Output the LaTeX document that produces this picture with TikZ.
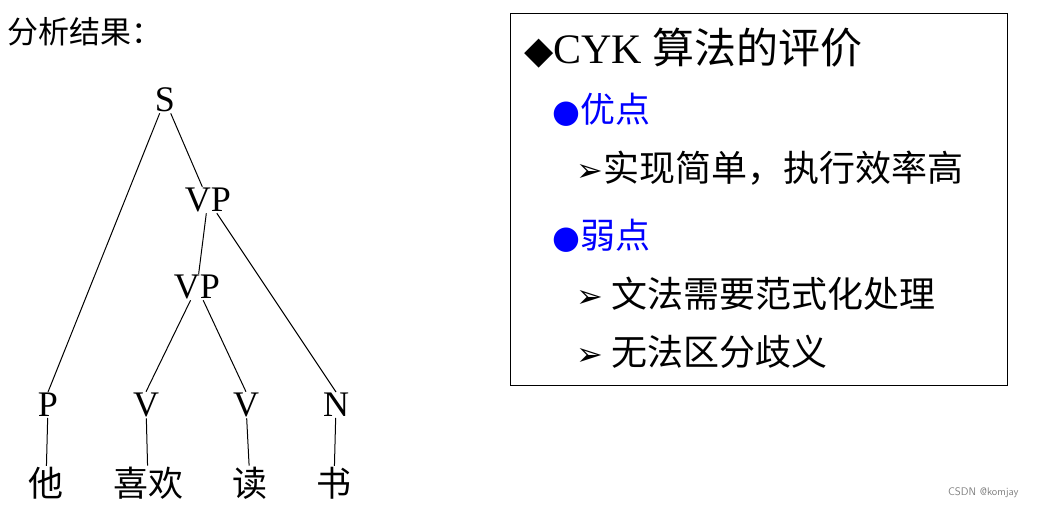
\documentclass[tikz,border=0pt]{standalone}
\usepackage{fontspec}
\setmainfont{Liberation Serif}
\newfontfamily\cjk{Noto Sans CJK SC}
\newfontfamily\sym{DejaVu Sans}
\begin{document}
\begin{tikzpicture}[x=1pt,y=-1pt,
  lbl/.style={font=\fontsize{36}{36}\selectfont,inner sep=1pt},
  cj/.style={font=\fontsize{35}{35}\selectfont\cjk,inner sep=1pt},
  edge/.style={line width=1pt}]
\useasboundingbox (0,0) rectangle (1037,509);
\node[cj,anchor=west,font=\fontsize{31}{31}\selectfont\cjk] (title) at (6,32) {分析结果：};
\node[lbl] (S) at (165,100) {S};
\node[lbl] (VP1) at (208,200) {VP};
\node[lbl] (VP2) at (197,287) {VP};
\node[lbl] (P) at (48,405) {P};
\node[lbl] (V1) at (146,405) {V};
\node[lbl] (V2) at (246,405) {V};
\node[lbl] (N) at (336,405) {N};
\node[cj] (w1) at (46,483) {他};
\node[cj] (w2) at (148,483) {喜欢};
\node[cj] (w3) at (250,483) {读};
\node[cj] (w4) at (334,483) {书};
\draw[edge] (S) -- (P.north);
\draw[edge] (S) -- (VP1);
\draw[edge] (VP1) -- (VP2);
\draw[edge] (VP1) -- (N.north);
\draw[edge] (VP2) -- (V1.north);
\draw[edge] (VP2) -- (V2.north);
\draw[edge] (P) -- (w1);
\draw[edge] (V1) -- (w2);
\draw[edge] (V2) -- (w3);
\draw[edge] (N) -- (w4);
\draw[line width=0.8pt] (510,13) rectangle (1007,385);
\node[anchor=west,inner sep=0pt,font=\fontsize{42}{42}\selectfont] (h) at (524,48) {{\sym\fontsize{38}{38}\selectfont◆}CYK {\cjk 算法的评价}};
\node[anchor=west,inner sep=0pt,text=blue,font=\fontsize{35}{35}\selectfont\cjk] (a) at (552,110) {{\sym\fontsize{32}{32}\selectfont●}优点};
\node[anchor=west,inner sep=0pt,font=\fontsize{36}{36}\selectfont\cjk] (a1) at (576,168) {{\sym\fontsize{32}{32}\selectfont➢}实现简单，执行效率高};
\node[anchor=west,inner sep=0pt,text=blue,font=\fontsize{35}{35}\selectfont\cjk] (b) at (552,236) {{\sym\fontsize{32}{32}\selectfont●}弱点};
\node[anchor=west,inner sep=0pt,font=\fontsize{36}{36}\selectfont\cjk] (b1) at (576,294) {{\sym\fontsize{32}{32}\selectfont➢} 文法需要范式化处理};
\node[anchor=west,inner sep=0pt,font=\fontsize{36}{36}\selectfont\cjk] (b2) at (576,352) {{\sym\fontsize{32}{32}\selectfont➢} 无法区分歧义};
\node[anchor=east,text=gray,font=\fontsize{11}{11}\selectfont\sffamily] (wm) at (1022,493) {CSDN @komjay};
\end{tikzpicture}
\end{document}
